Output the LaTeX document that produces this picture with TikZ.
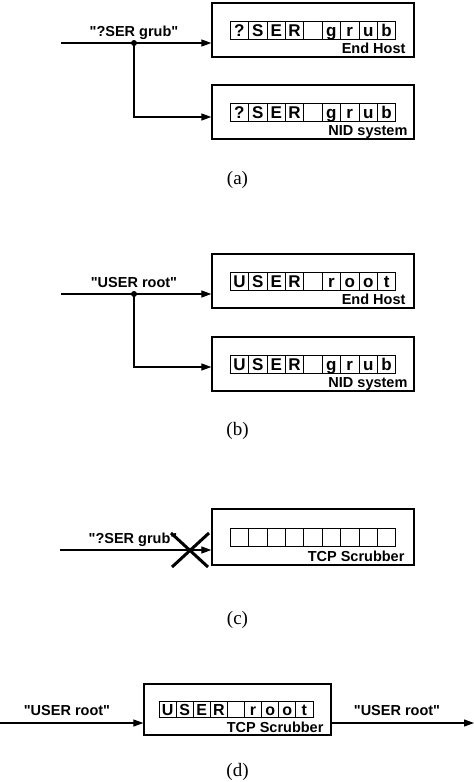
\documentclass[tikz,border=0pt]{standalone}
\usepackage{fontspec}
\setmainfont{Liberation Serif}
\setsansfont{Liberation Sans}
\usetikzlibrary{arrows.meta}
\newcommand\qq{\textquotedbl}

\begin{document}
\begin{tikzpicture}[x=1pt,y=-1pt,>={Triangle[length=10pt,width=7pt]},
    lbl/.style={font=\sffamily\bfseries\fontsize{14.5}{16}\selectfont,inner sep=0},
    sysbox/.style={draw,line width=1.3pt,inner sep=0,minimum width=202pt,minimum height=54pt},
    cell/.style={draw,line width=0.9pt,inner sep=0,minimum width=18.4pt,minimum height=18pt,
        text height=12.2pt,text depth=0pt,font=\sffamily\bfseries\fontsize{17}{19}\selectfont},
    smallcell/.style={cell,minimum width=17.1pt,minimum height=16pt,text height=11.5pt,
        font=\sffamily\bfseries\fontsize{16}{18}\selectfont},
    wire/.style={line width=1.2pt},
    capt/.style={font=\fontsize{19}{22}\selectfont}]
    \useasboundingbox (0,0) rectangle (474,782);

    % (a) split: end host and NID see the same thing
    \node[sysbox] (hostA) at (313,30) {};
    \node[sysbox] (nidA) at (313,112) {};
    \foreach \ch [count=\i from 0] in {?,S,E,R,{},g,r,u,b}
        \node[cell] (hA\i) at ([xshift=\i*18.4pt-73.6pt]hostA.center) {\ch};
    \foreach \ch [count=\i from 0] in {?,S,E,R,{},g,r,u,b}
        \node[cell] (nA\i) at ([xshift=\i*18.4pt-73.6pt]nidA.center) {\ch};
    \node[lbl,anchor=base east] (hostAname) at ([xshift=-9pt,yshift=4pt]hostA.south east) {End Host};
    \node[lbl,anchor=base east] (nidAname) at ([xshift=-7pt,yshift=4pt]nidA.south east) {NID system};
    \coordinate (inA) at (61,43);
    \coordinate (jA) at (134,43);
    \node[lbl,anchor=base] (msgA) at (134,36.5) {\qq?SER grub\qq};
    \draw[wire,->] (inA) -- ([yshift=-13pt]hostA.west);
    \draw[wire,->] (jA) |- ([yshift=-5pt]nidA.west);
    \fill (jA) circle (3pt);
    \node[capt] (captA) at (237.5,180) {(a)};

    % (b) ambiguity: end host and NID disagree
    \node[sysbox] (hostB) at (313,281) {};
    \node[sysbox] (nidB) at (313,364) {};
    \foreach \ch [count=\i from 0] in {U,S,E,R,{},r,o,o,t}
        \node[cell] (hB\i) at ([xshift=\i*18.4pt-73.6pt]hostB.center) {\ch};
    \foreach \ch [count=\i from 0] in {U,S,E,R,{},g,r,u,b}
        \node[cell] (nB\i) at ([xshift=\i*18.4pt-73.6pt]nidB.center) {\ch};
    \node[lbl,anchor=base east] (hostBname) at ([xshift=-9pt,yshift=4pt]hostB.south east) {End Host};
    \node[lbl,anchor=base east] (nidBname) at ([xshift=-7pt,yshift=4pt]nidB.south east) {NID system};
    \coordinate (inB) at (61,294);
    \coordinate (jB) at (134,294);
    \node[lbl,anchor=base] (msgB) at (134,287) {\qq USER root\qq};
    \draw[wire,->] (inB) -- ([yshift=-13pt]hostB.west);
    \draw[wire,->] (jB) |- ([yshift=-3pt]nidB.west);
    \fill (jB) circle (3pt);
    \node[capt] (captB) at (237.5,431) {(b)};

    % (c) scrubber drops the bad packet
    \node[sysbox,minimum height=56pt] (scrubC) at (313,537) {};
    \foreach \i in {0,...,8}
        \node[cell] (sC\i) at ([xshift=\i*18.4pt-73.6pt]scrubC.center) {};
    \node[lbl,anchor=base east] (scrubCname) at ([xshift=-10pt,yshift=4pt]scrubC.south east) {TCP Scrubber};
    \coordinate (inC) at (60,550);
    \node[lbl,anchor=base] (msgC) at (133,543) {\qq?SER grub\qq};
    \draw[wire,->] (inC) -- ([yshift=-13pt]scrubC.west);
    \draw[line width=3pt] (171,533) -- (208,567) (209,533) -- (172,567);
    \node[capt] (captC) at (237.5,620) {(c)};

    % (d) scrubber passes the good one
    \node[sysbox,minimum width=187pt,minimum height=51pt] (scrubD) at (237.5,709.5) {};
    \foreach \ch [count=\i from 0] in {U,S,E,R,{},r,o,o,t}
        \node[smallcell] (sD\i) at ([xshift=\i*17.1pt-69.9pt]scrubD.center) {\ch};
    \node[lbl,anchor=base east] (scrubDname) at ([xshift=-8pt,yshift=3pt]scrubD.south east) {TCP Scrubber};
    \coordinate (inD) at (0,723);
    \coordinate (outD) at (474,723);
    \node[lbl,anchor=base] (msgDin) at (67,715) {\qq USER root\qq};
    \node[lbl,anchor=base] (msgDout) at (397,715) {\qq USER root\qq};
    \draw[wire,->] (inD) -- ([yshift=-13.5pt]scrubD.west);
    \draw[wire,->] ([yshift=-13.5pt]scrubD.east) -- (outD);
    \node[capt] (captD) at (237.5,772) {(d)};
\end{tikzpicture}
\end{document}
